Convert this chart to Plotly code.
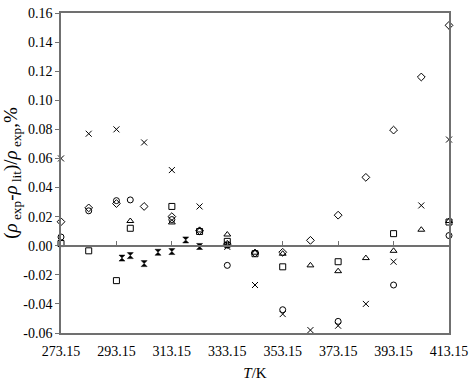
import plotly.graph_objects as go

# --- data (deviation, %) ---
T_diamond = [273.15, 283.15, 293.15, 303.15, 313.15, 323.15, 333.15, 343.15, 353.15, 363.15, 373.15, 383.15, 393.15, 403.15, 413.15]
v_diamond = [0.0165, 0.026, 0.029, 0.027, 0.020, 0.0103, 0.001, -0.005, -0.0045, 0.0037, 0.021, 0.047, 0.0795, 0.116, 0.1515]

T_circle = [273.15, 283.15, 293.15, 298.15, 313.15, 333.15, 353.15, 373.15, 393.15, 413.15]
v_circle = [0.006, 0.024, 0.031, 0.0315, 0.018, -0.0135, -0.044, -0.052, -0.027, 0.007]

T_triangle = [298.15, 313.15, 323.15, 333.15, 343.15, 353.15, 363.15, 373.15, 383.15, 393.15, 403.15, 413.15]
v_triangle = [0.017, 0.016, 0.0105, 0.0077, -0.0048, -0.0055, -0.0135, -0.0175, -0.0085, -0.0035, 0.011, 0.017]

T_square = [273.15, 283.15, 293.15, 298.15, 313.15, 323.15, 333.15, 343.15, 353.15, 373.15, 393.15, 413.15]
v_square = [0.0015, -0.0035, -0.024, 0.012, 0.027, 0.0098, 0.003, -0.0055, -0.0145, -0.011, 0.0083, 0.0163]

T_cross = [273.15, 283.15, 293.15, 303.15, 313.15, 323.15, 333.15, 343.15, 353.15, 363.15, 373.15, 383.15, 393.15, 403.15, 413.15]
v_cross = [0.060, 0.077, 0.080, 0.071, 0.052, 0.027, -0.0008, -0.027, -0.047, -0.058, -0.055, -0.040, -0.011, 0.0277, 0.073]

T_hour = [295.15, 298.15, 303.15, 308.15, 313.15, 318.15, 323.15, 333.15]
v_hour = [-0.0085, -0.0068, -0.0123, -0.0045, -0.004, 0.004, -0.0005, 0.0005]

x_ticks = [273.15, 293.15, 313.15, 333.15, 353.15, 373.15, 393.15, 413.15]
x_ticktext = ["273.15", "293.15", "313.15", "333.15", "353.15", "373.15", "393.15", "413.15"]
y_ticks = [-0.06, -0.04, -0.02, 0.0, 0.02, 0.04, 0.06, 0.08, 0.10, 0.12, 0.14, 0.16]
y_ticktext = ["-0.06", "-0.04", "-0.02", "0.00", "0.02", "0.04", "0.06", "0.08", "0.10", "0.12", "0.14", "0.16"]

AX = "#707070"
FONT = "Liberation Serif, Times New Roman, serif"

fig = go.Figure()

def add(T, v, symbol, size=6, lw=1):
    fig.add_trace(go.Scatter(
        x=T, y=v, mode="markers", cliponaxis=False,
        marker=dict(symbol=symbol, size=size, color="black",
                    line=dict(color="black", width=lw)),
        showlegend=False))

add(T_diamond, v_diamond, "diamond-open", 6)
add(T_circle, v_circle, "circle-open", 6)
add(T_triangle, v_triangle, "triangle-up-open", 6)
add(T_square, v_square, "square-open", 6)
add(T_cross, v_cross, "x-thin-open", 6)
add(T_hour, v_hour, "hourglass", 6, 0.5)

fig.update_layout(
    width=474, height=385,
    margin=dict(l=61, r=16, t=6, b=49),
    paper_bgcolor="white", plot_bgcolor="white",
    font=dict(family=FONT, size=13, color="black"),
    xaxis=dict(
        range=[273.15, 413.15], tickvals=x_ticks, ticktext=x_ticktext,
        ticks="", showgrid=False, zeroline=False,
        showline=True, linecolor=AX, linewidth=1.5, mirror=True,
        title=dict(text="<i>T</i>/K", font=dict(size=15), standoff=10),
        tickfont=dict(size=14), ticklabelstandoff=4, ticklabeloverflow="allow",
    ),
    xaxis2=dict(
        range=[273.15, 413.15], overlaying="x", anchor="free", position=0.06 / 0.22,
        side="bottom", tickvals=x_ticks, ticks="inside", ticklen=4, tickcolor=AX,
        showticklabels=False, showgrid=False, zeroline=False,
        showline=True, linecolor=AX, linewidth=1.5,
    ),
    yaxis=dict(
        range=[-0.06, 0.16], tickvals=y_ticks, ticktext=y_ticktext,
        ticks="outside", ticklen=4, tickcolor=AX,
        showgrid=False, zeroline=False,
        showline=True, linecolor=AX, linewidth=1.5, mirror=True,
        title=dict(text="(<i>ρ</i><sub> exp</sub>-<i>ρ</i><sub> lit</sub>)/<i>ρ</i><sub> exp</sub>,%",
                   font=dict(size=19), standoff=4),
        tickfont=dict(size=14), ticklabeloverflow="allow",
    ),
)

# invisible trace to activate xaxis2
fig.add_trace(go.Scatter(x=[T_cross[0]], y=[v_cross[0]], xaxis="x2", mode="markers",
                         marker=dict(opacity=0), showlegend=False, hoverinfo="skip"))

fig.write_html("out.html", config={"displayModeBar": False},
               post_script="document.body.style.margin='0';document.body.style.overflow='hidden';")
